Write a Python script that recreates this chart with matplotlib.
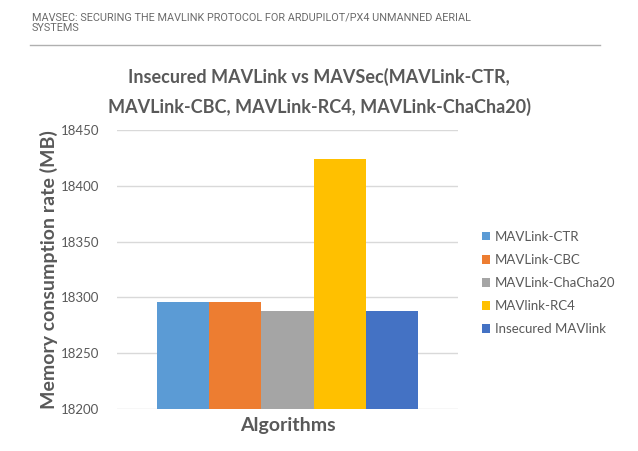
import matplotlib
matplotlib.use("Agg")
import matplotlib.pyplot as plt
from matplotlib.lines import Line2D

series = ["MAVLink-CTR", "MAVLink-CBC", "MAVLink-ChaCha20", "MAVlink-RC4", "Insecured MAVlink"]
values = [18296, 18296, 18288, 18424, 18288]
colors = ["#5b9bd5", "#ed7d31", "#a5a5a5", "#ffc000", "#4472c4"]
yticks = [18200, 18250, 18300, 18350, 18400, 18450]

plt.rcParams["font.family"] = ["Lato", "DejaVu Sans"]
txt = "#595959"

fig = plt.figure(figsize=(6.38, 4.51), dpi=100)
fig.patch.set_facecolor("white")

# page header
fig.text(32 / 638, 1 - 23 / 451, "MAVSEC: SECURING THE MAVLINK PROTOCOL FOR ARDUPILOT/PX4 UNMANNED AERIAL\nSYSTEMS",
         family="Roboto", fontsize=7.8, color="#6b6b6b", va="center", ha="left", linespacing=1.1)
fig.add_artist(Line2D([30 / 638, 600 / 638], [1 - 45 / 451, 1 - 45 / 451], color="#b0b0b0", lw=1))

ax = fig.add_axes([117 / 638, 1 - 409 / 451, 341 / 638, 279 / 451])
w = 0.2
for i, (name, v, c) in enumerate(zip(series, values, colors)):
    ax.bar((i - 2) * w, v - yticks[0], bottom=yticks[0], width=w, color=c, label=name, zorder=3)

ax.set_xlim(-0.652, 0.652)
ax.set_ylim(yticks[0], yticks[-1])
ax.set_yticks(yticks)
ax.set_yticklabels([str(t) for t in yticks], fontsize=9.5, color=txt)
ax.set_xticks([])
ax.tick_params(axis="y", length=0, pad=13)
ax.grid(axis="y", color="#d9d9d9", lw=1, zorder=0)
for s in ax.spines.values():
    s.set_visible(False)

ax.set_xlabel("Algorithms", fontsize=14, fontweight="bold", color=txt, labelpad=6)
ax.set_ylabel("Memory consumption rate (MB)", fontsize=14, fontweight="bold", color=txt, labelpad=2)

fig.text(0.5, 1 - 92 / 451, "Insecured MAVLink vs MAVSec(MAVLink-CTR,\nMAVLink-CBC, MAVLink-RC4, MAVLink-ChaCha20)",
         ha="center", va="center", fontsize=13, fontweight="bold", color=txt, linespacing=1.75)

ax.legend(loc="center left", bbox_to_anchor=(470 / 638, 1 - 283 / 451), bbox_transform=fig.transFigure,
          frameon=False, fontsize=9.5, labelcolor=txt, handlelength=0.65, handleheight=0.65,
          handletextpad=0.35, labelspacing=0.85)

fig.savefig("out.png", dpi=100)
